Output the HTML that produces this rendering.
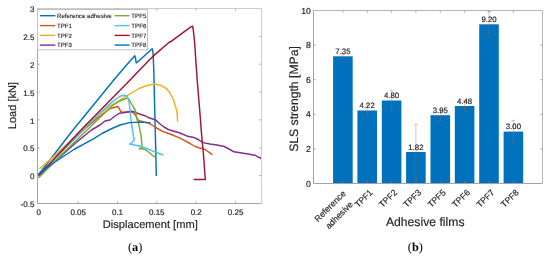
<!DOCTYPE html>
<html><head><meta charset="utf-8"><title>Figure</title>
<style>html,body{margin:0;padding:0;background:#fff;}svg{display:block;}text{font-family:"Liberation Sans",sans-serif;fill:#262626;text-rendering:geometricPrecision;stroke:#262626;stroke-width:0.18px;}.lg text{stroke-width:0.13px;}.cap{font-family:"Liberation Serif",serif;fill:#000;stroke:none;}</style>
</head><body>
<svg width="550" height="257" viewBox="0 0 550 257">
<rect x="0" y="0" width="550" height="257" fill="#fff"/>
<g id="left">
<g fill="none" stroke-width="1.45" stroke-linejoin="round" stroke-linecap="round">
<polyline stroke="#0072BD" points="38.7,174.5 73.0,130.0 93.0,105.5 113.8,80.0 125.0,66.8 134.8,55.8 135.5,58.0 136.2,63.0 137.0,62.5 152.2,48.8 153.0,52.0 153.8,70.0 154.7,110.0 155.5,140.0 156.3,175.4"/>
<polyline stroke="#D95319" points="38.7,175.0 60.0,153.5 80.0,133.0 100.0,116.0 110.0,108.5 117.8,106.5 119.0,108.0 120.7,111.5 122.0,112.3 126.0,112.0 129.5,111.8 132.0,112.0 134.3,113.8 136.0,116.0 138.2,120.0 139.2,120.7 144.0,122.0 149.0,123.2 155.0,127.0 162.5,131.4 170.0,134.0 179.5,137.8 184.0,140.2 190.0,143.5 195.0,146.5 199.5,148.0 203.8,148.9 208.0,151.5 212.0,154.4"/>
<polyline stroke="#EDB120" points="39.9,168.4 50.6,159.2 62.0,148.8 75.0,136.5 88.0,124.0 99.0,114.5 110.0,106.0 127.5,95.3 139.0,88.5 147.0,85.5 154.7,84.0 161.0,85.5 166.4,88.5 170.0,93.0 172.0,97.0 174.0,101.0 175.0,105.0 176.0,108.0 177.0,112.0 177.3,117.0 177.7,121.3"/>
<polyline stroke="#7E2F8E" points="38.7,175.5 60.0,157.0 75.0,143.5 91.4,130.0 100.0,125.0 105.0,121.0 110.0,120.0 115.0,116.0 119.7,113.2 125.0,112.5 131.4,111.2 133.3,111.5 138.0,113.5 145.0,115.7 149.0,117.8 155.7,120.0 160.0,124.0 164.0,127.0 168.4,129.5 169.7,130.0 180.0,133.0 187.8,136.3 195.0,137.8 199.0,140.0 202.8,142.6 210.0,144.0 217.0,145.0 224.2,146.5 229.0,149.0 234.0,151.8 245.0,153.5 255.3,155.3 258.0,157.0 261.2,158.2"/>
<polyline stroke="#77AC30" points="39.0,177.5 60.0,156.0 85.0,132.0 100.0,117.5 112.8,105.3 120.0,101.0 127.4,98.0 129.5,100.0 133.3,107.0 135.3,110.0 137.2,120.0 138.2,121.7 141.0,135.3 142.0,145.0 141.0,148.0 139.2,149.0 142.0,148.5 146.0,150.0 151.8,154.7 154.4,156.7"/>
<polyline stroke="#4DBEEE" points="38.7,175.0 60.0,153.5 80.0,133.5 99.0,114.0 112.8,101.4 120.6,96.0 124.5,95.2 127.0,96.0 128.5,99.0 129.5,105.0 131.0,120.0 133.3,135.3 134.3,140.0 132.0,142.5 129.5,144.0 133.0,144.8 139.2,146.0 147.0,148.5 154.7,151.8 163.0,155.0"/>
<polyline stroke="#A2142F" points="38.7,175.5 60.0,152.5 81.0,130.0 106.0,104.5 130.1,80.0 149.2,60.0 156.0,53.6 169.8,41.8 170.5,41.9 183.0,32.6 191.2,26.6 192.6,26.2 193.3,30.0 194.7,43.3 195.8,60.0 197.2,80.0 200.5,120.0 201.2,130.0 203.5,155.0 205.3,179.5 194.2,179.5"/>
<polyline stroke="#0072BD" points="38.7,174.0 55.0,162.0 73.9,149.5 93.4,138.8 102.0,133.5 110.9,129.0 120.0,125.0 129.5,122.6 140.0,122.1 149.9,122.6"/>
</g>
<path d="M37.5 8.5H261.5V203.5" stroke="#cdcdcd" stroke-width="1" fill="none"/>
<path d="M37.5 8.5V203.5H261.5" stroke="#a4a4a4" stroke-width="1" fill="none"/>
<path d="M78.2 203.5v-2.2M78.2 8.5v2.2M117.5 203.5v-2.2M117.5 8.5v2.2M156.8 203.5v-2.2M156.8 8.5v2.2M196.2 203.5v-2.2M196.2 8.5v2.2M235.6 203.5v-2.2M235.6 8.5v2.2M37.5 175.6h2.2M261.5 175.6h-2.2M37.5 147.8h2.2M261.5 147.8h-2.2M37.5 119.9h2.2M261.5 119.9h-2.2M37.5 92.1h2.2M261.5 92.1h-2.2M37.5 64.2h2.2M261.5 64.2h-2.2M37.5 36.4h2.2M261.5 36.4h-2.2" stroke="#8c8c8c" stroke-width="0.7" fill="none"/>
<g font-size="8.0">
<text x="38.8" y="214.6" text-anchor="middle">0</text>
<text x="78.2" y="214.6" text-anchor="middle">0.05</text>
<text x="117.5" y="214.6" text-anchor="middle">0.1</text>
<text x="156.8" y="214.6" text-anchor="middle">0.15</text>
<text x="196.2" y="214.6" text-anchor="middle">0.2</text>
<text x="235.6" y="214.6" text-anchor="middle">0.25</text>
<text x="34.4" y="207.1" text-anchor="end">-0.5</text>
<text x="34.4" y="179.2" text-anchor="end">0</text>
<text x="34.4" y="151.4" text-anchor="end">0.5</text>
<text x="34.4" y="123.5" text-anchor="end">1</text>
<text x="34.4" y="95.7" text-anchor="end">1.5</text>
<text x="34.4" y="67.8" text-anchor="end">2</text>
<text x="34.4" y="40.0" text-anchor="end">2.5</text>
<text x="34.4" y="12.1" text-anchor="end">3</text>
</g>
<text x="150.3" y="228" font-size="11.1" stroke="none" text-anchor="middle">Displacement [mm]</text>
<text transform="translate(16.1,105.6) rotate(-90)" font-size="11.0" stroke="none" text-anchor="middle">Load [kN]</text>
<rect x="37.5" y="9.5" width="110" height="40.3" fill="#fff" stroke="#c0c0c0" stroke-width="1"/>
<g font-size="6.15" class="lg">
<path d="M39.9 15.7H55.4" stroke="#0072BD" stroke-width="1.4"/>
<text x="57.0" y="18.0">Reference adhesive</text>
<path d="M39.9 25.6H55.4" stroke="#D95319" stroke-width="1.4"/>
<text x="57.0" y="27.9">TPF1</text>
<path d="M39.9 35.4H55.4" stroke="#EDB120" stroke-width="1.4"/>
<text x="57.0" y="37.7">TPF2</text>
<path d="M39.9 45.1H55.4" stroke="#7E2F8E" stroke-width="1.4"/>
<text x="57.0" y="47.4">TPF3</text>
<path d="M114.6 15.7H129.6" stroke="#77AC30" stroke-width="1.4"/>
<text x="131.3" y="18.0">TPF5</text>
<path d="M114.6 25.6H129.6" stroke="#4DBEEE" stroke-width="1.4"/>
<text x="131.3" y="27.9">TPF6</text>
<path d="M114.6 35.4H129.6" stroke="#A2142F" stroke-width="1.4"/>
<text x="131.3" y="37.7">TPF7</text>
<path d="M114.6 45.1H129.6" stroke="#0072BD" stroke-width="1.4"/>
<text x="131.3" y="47.4">TPF8</text>
</g>
<text class="cap" x="135.2" y="251" font-size="12.3" text-anchor="middle">(<tspan font-weight="bold">a</tspan>)</text>
</g>
<g id="right">
<rect x="333.1" y="56.3" width="19.6" height="127.2" fill="#0072BD"/>
<rect x="357.4" y="110.5" width="19.6" height="73.0" fill="#0072BD"/>
<rect x="381.8" y="100.5" width="19.6" height="83.0" fill="#0072BD"/>
<rect x="406.1" y="152.0" width="19.6" height="31.5" fill="#0072BD"/>
<rect x="430.5" y="115.2" width="19.6" height="68.3" fill="#0072BD"/>
<rect x="454.8" y="106.0" width="19.6" height="77.5" fill="#0072BD"/>
<rect x="479.2" y="24.3" width="19.6" height="159.2" fill="#0072BD"/>
<rect x="503.6" y="131.6" width="19.6" height="51.9" fill="#0072BD"/>
<path d="M342.9 54.3V58.4M341.1 54.3h3.6M341.1 58.4h3.6M367.2 104.8V116.2M365.4 104.8h3.6M365.4 116.2h3.6M391.6 90.4V110.5M389.8 90.4h3.6M389.8 110.5h3.6M415.9 124.3V179.7M414.1 124.3h3.6M414.1 179.7h3.6M440.3 109.8V120.5M438.5 109.8h3.6M438.5 120.5h3.6M464.6 100.8V111.2M462.8 100.8h3.6M462.8 111.2h3.6M489.0 11.4V37.3M487.2 11.4h3.6M487.2 37.3h3.6M513.4 120.4V142.8M511.6 120.4h3.6M511.6 142.8h3.6" stroke="#D95319" stroke-width="0.55" fill="none" opacity="0.7"/>
<path d="M313.5 10.5H542.5V183.5" stroke="#b6b6b6" stroke-width="1" fill="none"/>
<path d="M313.5 10.5V183.5H542.5" stroke="#a4a4a4" stroke-width="1" fill="none"/>
<path d="M342.9 183.5v-2.2M342.9 10.5v2.2M367.2 183.5v-2.2M367.2 10.5v2.2M391.6 183.5v-2.2M391.6 10.5v2.2M415.9 183.5v-2.2M415.9 10.5v2.2M440.3 183.5v-2.2M440.3 10.5v2.2M464.6 183.5v-2.2M464.6 10.5v2.2M489.0 183.5v-2.2M489.0 10.5v2.2M513.4 183.5v-2.2M513.4 10.5v2.2M313.5 148.9h2.2M542.5 148.9h-2.2M313.5 114.3h2.2M542.5 114.3h-2.2M313.5 79.7h2.2M542.5 79.7h-2.2M313.5 45.1h2.2M542.5 45.1h-2.2" stroke="#8c8c8c" stroke-width="0.7" fill="none"/>
<g font-size="8.7">
<text x="310.8" y="186.5" text-anchor="end">0</text>
<text x="310.8" y="151.9" text-anchor="end">2</text>
<text x="310.8" y="117.3" text-anchor="end">4</text>
<text x="310.8" y="82.7" text-anchor="end">6</text>
<text x="310.8" y="48.1" text-anchor="end">8</text>
<text x="310.8" y="13.5" text-anchor="end">10</text>
<text x="342.9" y="54.1" text-anchor="middle" font-size="7.8">7.35</text>
<text x="367.2" y="108.3" text-anchor="middle" font-size="7.8">4.22</text>
<text x="391.6" y="98.3" text-anchor="middle" font-size="7.8">4.80</text>
<text x="415.9" y="149.8" text-anchor="middle" font-size="7.8">1.82</text>
<text x="440.3" y="113.0" text-anchor="middle" font-size="7.8">3.95</text>
<text x="464.6" y="103.8" text-anchor="middle" font-size="7.8">4.48</text>
<text x="489.0" y="22.1" text-anchor="middle" font-size="7.8">9.20</text>
<text x="513.4" y="129.4" text-anchor="middle" font-size="7.8">3.00</text>
<text transform="translate(373.2,193.0) rotate(-45)" text-anchor="end">TPF1</text>
<text transform="translate(397.6,193.0) rotate(-45)" text-anchor="end">TPF2</text>
<text transform="translate(421.9,193.0) rotate(-45)" text-anchor="end">TPF3</text>
<text transform="translate(446.3,193.0) rotate(-45)" text-anchor="end">TPF5</text>
<text transform="translate(470.6,193.0) rotate(-45)" text-anchor="end">TPF6</text>
<text transform="translate(495.0,193.0) rotate(-45)" text-anchor="end">TPF7</text>
<text transform="translate(519.4,193.0) rotate(-45)" text-anchor="end">TPF8</text>
<text transform="translate(347.4,193.0) rotate(-45)" text-anchor="end"><tspan x="-1.5" y="0">Reference</tspan><tspan x="-4.2" y="12.8">adhesive</tspan></text>
</g>
<text x="425.2" y="226.4" font-size="12.2" stroke="none" text-anchor="middle">Adhesive films</text>
<text transform="translate(297.6,99) rotate(-90)" font-size="12.2" stroke="none" text-anchor="middle">SLS strength [MPa]</text>
<text class="cap" x="415.3" y="251.3" font-size="12.3" text-anchor="middle">(<tspan font-weight="bold">b</tspan>)</text>
</g>
</svg></body></html>
